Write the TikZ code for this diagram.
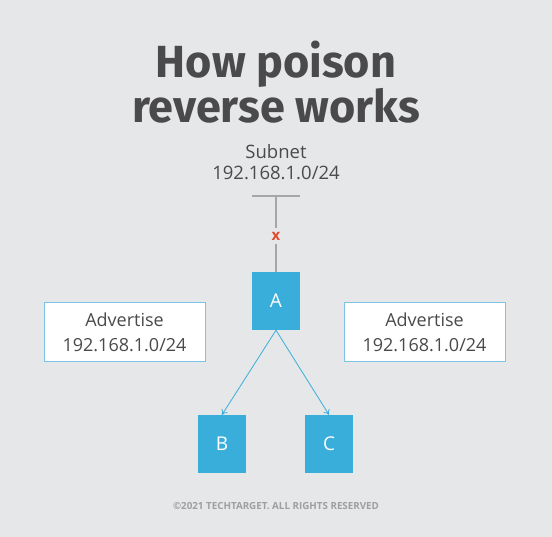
\documentclass[tikz,border=0pt]{standalone}
\usepackage{fontspec}
\setmainfont{Open Sans}
\newfontfamily\titlefont{Fira Sans}
\usetikzlibrary{arrows.meta}
\definecolor{bgray}{HTML}{E6E7E9}
\definecolor{tgray}{HTML}{4A4A4C}
\definecolor{nblue}{HTML}{3AAEDB}
\definecolor{lblue}{HTML}{7CC4E6}
\definecolor{xred}{HTML}{E04A2F}
\tikzstyle{router} = [rectangle,minimum width=48pt, minimum height=58pt, inner sep=0pt, fill=nblue, text=white, font=\fontsize{19}{20}\selectfont]
\tikzstyle{advert} = [rectangle,minimum width=161pt, minimum height=59pt, align=center, draw=lblue, line width=1pt, fill=white, text=tgray, font=\fontsize{18}{25}\selectfont]
\tikzstyle{arrow}=[nblue,line width=0.8pt,-{To[length=5pt,width=7pt]}]
\tikzstyle{wire}=[gray!70,line width=1.6pt]

\begin{document}
\begin{tikzpicture}[x=1pt,y=-1pt]
\fill[bgray] (0,0) rectangle (552,537);
\useasboundingbox (0,0) rectangle (552,537);
% title
\node(title)[align=center,text=tgray,font=\fontsize{45}{43}\titlefont\bfseries] at (276,82) {How poison\\reverse works};
\node(subnet)[align=center,text=tgray,font=\fontsize{18.5}{21}\selectfont] at (276,162) {Subnet\\192.168.1.0/24};
% routers
\node(A)[router] at (276,301) {A};
\node(B)[router] at (222,444) {B};
\node(C)[router] at (329,444) {C};
\node(left)[advert] at (124.5,332.5) {Advertise\\192.168.1.0/24};
\node(right)[advert] at (424.5,332.5) {Advertise\\192.168.1.0/24};
% subnet bar and cut link
\coordinate(barl) at (252,196);
\coordinate(barr) at (300,196);
\coordinate(bar) at (276,196);
\node(cut)[text=xred,font=\fontsize{15}{15}\selectfont\bfseries] at (276,236) {x};

\draw[wire](barl)--(barr);
\draw[wire](bar)--(cut.north);
\draw[wire](cut.south)--(A.north);
\draw[arrow](A.south)--(B.north);
\draw[arrow](A.south)--(C.north);
% footer
\node(footer)[text=gray!75,font=\fontsize{9.8}{11}\selectfont\bfseries] at (276,506) {\textcopyright2021 TECHTARGET. ALL RIGHTS RESERVED};
\end{tikzpicture}
\end{document}
